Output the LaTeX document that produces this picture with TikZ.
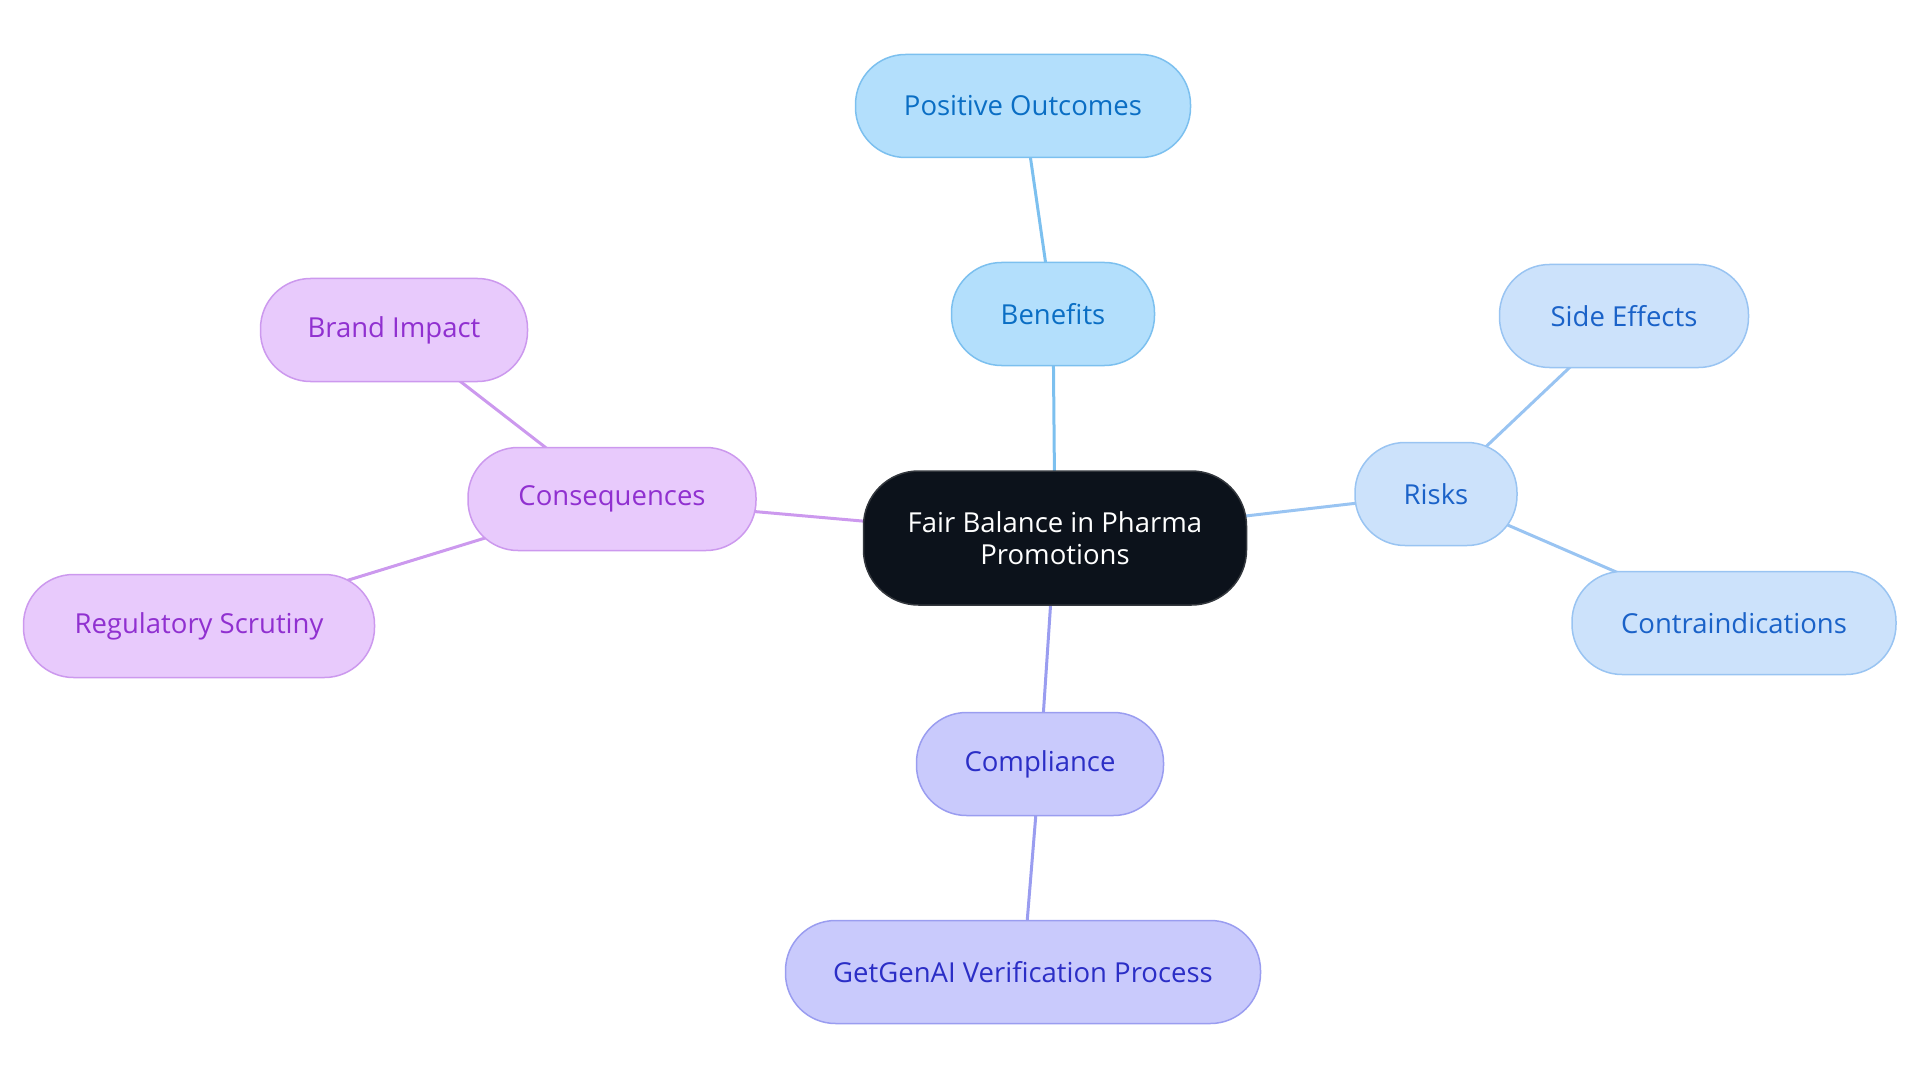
\documentclass[tikz,border=0pt]{standalone}
\usepackage{fontspec}
\setmainfont{Open Sans}
\usetikzlibrary{backgrounds}
\begin{document}
\begin{tikzpicture}[x=1pt,y=-1pt,
  base/.style={rectangle,rounded corners=50pt,line width=1.5pt,minimum height=103pt,inner sep=0pt,font=\fontsize{27.5}{32}\selectfont},
  bl/.style={base,fill=cBlF,draw=cBlD,text=cBlT},
  rk/.style={base,fill=cRkF,draw=cRkD,text=cRkT},
  cp/.style={base,fill=cCpF,draw=cCpD,text=cCpT},
  cq/.style={base,fill=cCqF,draw=cCqD,text=cCqT},
  ctr/.style={base,fill=cCtF,draw=cCtD,text=white,align=center},
  eg/.style={line width=3pt}
]
\definecolor{cBlF}{HTML}{B3DFFC}\definecolor{cBlD}{HTML}{7CC0EF}\definecolor{cBlT}{HTML}{0A6EC4}
\definecolor{cRkF}{HTML}{CCE2FB}\definecolor{cRkD}{HTML}{99C4F2}\definecolor{cRkT}{HTML}{1A62C8}
\definecolor{cCpF}{HTML}{C9CAFC}\definecolor{cCpD}{HTML}{9A9DF0}\definecolor{cCpT}{HTML}{2B2EC6}
\definecolor{cCqF}{HTML}{E8CAFC}\definecolor{cCqD}{HTML}{CC99EE}\definecolor{cCqT}{HTML}{9030D0}
\definecolor{cCtF}{HTML}{0C121B}\definecolor{cCtD}{HTML}{33373D}
\useasboundingbox (0,0) rectangle (1920,1083);
\node[ctr,minimum width=383pt,minimum height=134pt,rounded corners=55pt] (c) at (1055,538) {Fair Balance in Pharma\\Promotions};
\node[bl,minimum width=203pt] (ben) at (1053,314) {Benefits};
\node[bl,minimum width=335pt] (pos) at (1023,106) {Positive Outcomes};
\node[rk,minimum width=162pt] (risk) at (1436,494) {Risks};
\node[rk,minimum width=249pt] (side) at (1624,316) {Side Effects};
\node[rk,minimum width=324pt] (contra) at (1734,623) {Contraindications};
\node[cp,minimum width=247pt] (comp) at (1040,764) {Compliance};
\node[cp,minimum width=475pt] (gen) at (1023,972) {GetGenAI Verification Process};
\node[cq,minimum width=288pt] (cons) at (612,499) {Consequences};
\node[cq,minimum width=267pt] (brand) at (394,330) {Brand Impact};
\node[cq,minimum width=351pt] (reg) at (199,626) {Regulatory Scrutiny};
\begin{pgfonlayer}{background}
\draw[eg,draw=cBlD] (c.center) -- (ben.center);
\draw[eg,draw=cBlD] (ben.center) -- (pos.center);
\draw[eg,draw=cRkD] (c.center) -- (risk.center);
\draw[eg,draw=cRkD] (risk.center) -- (side.center);
\draw[eg,draw=cRkD] (risk.center) -- (contra.center);
\draw[eg,draw=cCpD] (c.center) -- (comp.center);
\draw[eg,draw=cCpD] (comp.center) -- (gen.center);
\draw[eg,draw=cCqD] (c.center) -- (cons.center);
\draw[eg,draw=cCqD] (cons.center) -- (brand.center);
\draw[eg,draw=cCqD] (cons.center) -- (reg.center);
\end{pgfonlayer}
\end{tikzpicture}
\end{document}
